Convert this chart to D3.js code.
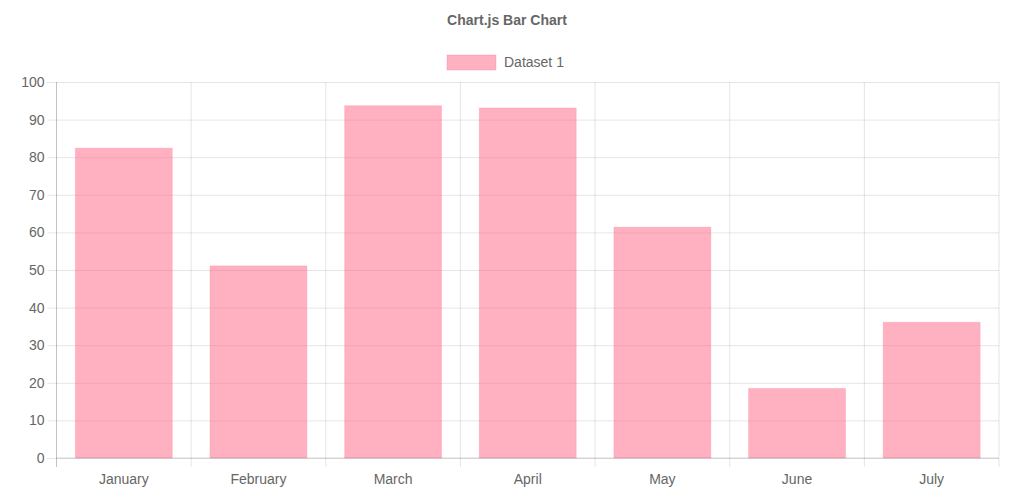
<!DOCTYPE html>
<html>
<head>
<meta charset="utf-8">
<script src="https://cdn.jsdelivr.net/npm/d3@7"></script>
<style>
  body { margin: 0; background: #fff; }
  text { font-family: "Liberation Sans", Arial, sans-serif; fill: #666; }
</style>
</head>
<body>
<div id="chart"></div>
<script>
// data
var months = ["January", "February", "March", "April", "May", "June", "July"];
var values = [82.4, 51.1, 93.7, 93.1, 61.4, 18.5, 36.1];
var yTicks = [0, 10, 20, 30, 40, 50, 60, 70, 80, 90, 100];
var seriesName = "Dataset 1";
var chartTitle = "Chart.js Bar Chart";

var width = 1024, height = 504;
var margin = {top: 82, right: 25, bottom: 46, left: 56.5};
var innerW = width - margin.left - margin.right;
var innerH = height - margin.top - margin.bottom;

var svg = d3.select("#chart").append("svg")
        .attr("width", width).attr("height", height);

var x = d3.scaleBand().domain(months).range([0, innerW]).paddingInner(0).paddingOuter(0);
var y = d3.scaleLinear().domain([0, 100]).range([innerH, 0]);

// title
svg.append("text")
        .attr("x", 507).attr("y", 25)
        .attr("text-anchor", "middle")
        .style("font-size", "14px").style("font-weight", "bold")
        .text(chartTitle);

// legend
var legend = svg.append("g").attr("transform", "translate(447,55)");
legend.append("rect")
        .attr("width", 49).attr("height", 15)
        .attr("fill", "rgba(255,99,132,0.5)")
        .attr("stroke", "rgba(255,99,132,0.25)");
legend.append("text")
        .attr("x", 57).attr("y", 12)
        .style("font-size", "14px")
        .text(seriesName);

var g = svg.append("g").attr("transform", "translate(" + margin.left + "," + margin.top + ")");

// horizontal grid + y ticks
var yAxis = d3.axisLeft(y).tickValues(yTicks).tickSize(-innerW).tickPadding(12);
var yg = g.append("g").call(yAxis);
yg.select(".domain").remove();
yg.selectAll(".tick line")
        .attr("x1", -9)
        .attr("stroke", "rgba(0,0,0,0.1)");
yg.selectAll(".tick text")
        .attr("x", -12)
        .style("font-size", "14px").style("fill", "#666")
        .style("font-family", "'Liberation Sans', Arial, sans-serif");

// vertical grid at category edges
var edges = months.map(function (m) { return x(m); }).concat([innerW]);
g.selectAll(".vgrid").data(edges).enter().append("line")
        .attr("class", "vgrid")
        .attr("x1", function (d) { return d; }).attr("x2", function (d) { return d; })
        .attr("y1", 0).attr("y2", innerH + 9)
        .attr("stroke", "rgba(0,0,0,0.1)");

// x labels
g.selectAll(".xlab").data(months).enter().append("text")
        .attr("class", "xlab")
        .attr("x", function (d) { return x(d) + x.bandwidth() / 2; })
        .attr("y", innerH + 26)
        .attr("text-anchor", "middle")
        .style("font-size", "14px")
        .text(function (d) { return d; });

// bars: 0.8 * 0.9 of the category width
var barW = x.bandwidth() * 0.72;
g.selectAll(".bar").data(values).enter().append("rect")
        .attr("class", "bar")
        .attr("x", function (d, i) { return x(months[i]) + (x.bandwidth() - barW) / 2; })
        .attr("y", function (d) { return y(d); })
        .attr("width", barW)
        .attr("height", function (d) { return innerH - y(d); })
        .attr("fill", "rgba(255,99,132,0.5)")
        .attr("stroke", "rgba(255,99,132,0.2)");

// zero line and left edge slightly darker
g.append("line")
        .attr("x1", 0).attr("x2", innerW)
        .attr("y1", innerH).attr("y2", innerH)
        .attr("stroke", "rgba(0,0,0,0.15)");
g.append("line")
        .attr("x1", 0).attr("x2", 0)
        .attr("y1", 0).attr("y2", innerH + 9)
        .attr("stroke", "rgba(0,0,0,0.15)");
</script>
</body>
</html>
